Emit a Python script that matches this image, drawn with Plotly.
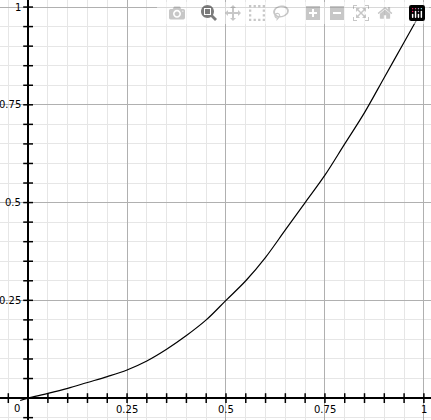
import plotly.graph_objects as go

# curve
xs = [-0.02, 0, 0.05, 0.1, 0.15, 0.2, 0.25, 0.3, 0.35, 0.4, 0.45, 0.5,
      0.55, 0.6, 0.65, 0.7, 0.75, 0.8, 0.85, 0.9, 0.95, 1]
ys = [-0.006, 0, 0.012, 0.025, 0.04, 0.055, 0.072, 0.095, 0.125, 0.16, 0.2, 0.25,
      0.3, 0.36, 0.43, 0.5, 0.57, 0.65, 0.73, 0.82, 0.91, 1]

tick_vals = [0.25, 0.5, 0.75, 1]
tick_text = ["0.25", "0.5", "0.75", "1"]
minor = [round(i * 0.05, 2) for i in range(-1, 21)]

fig = go.Figure()
fig.add_trace(go.Scatter(x=xs, y=ys, mode="lines", line=dict(color="black", width=1.2, shape="spline")))
# small tick marks on both axes
fig.add_trace(go.Scatter(x=minor, y=[0] * len(minor), mode="markers",
                         marker=dict(symbol="line-ns", size=7, line=dict(color="black", width=1.5))))
fig.add_trace(go.Scatter(x=[0] * len(minor), y=minor, mode="markers",
                         marker=dict(symbol="line-ew", size=7, line=dict(color="black", width=1.5))))

ann = [dict(x=0, y=0, text="0", xanchor="right", yanchor="top", xshift=-6, yshift=-3)]
for v, t in zip(tick_vals, tick_text):
    ann.append(dict(x=v, y=0, text=t, xanchor="center", yanchor="top", yshift=-4))
    ann.append(dict(x=0, y=v, text=t, xanchor="right", yanchor="middle", xshift=-5))
for a in ann:
    a.update(showarrow=False, font=dict(size=10, color="black", family="DejaVu Sans"))

fig.update_layout(
    width=431, height=420, margin=dict(l=0, r=0, t=0, b=0),
    plot_bgcolor="white", paper_bgcolor="white", showlegend=False,
    annotations=ann,
    xaxis=dict(range=[-0.071, 1.018], tickvals=[0.25 * i for i in range(5)], showticklabels=False,
               gridcolor="#b0b0b0", gridwidth=1, zeroline=True, zerolinecolor="black", zerolinewidth=1.5,
               minor=dict(dtick=0.05, tick0=0, showgrid=True, gridcolor="#e6e6e6")),
    yaxis=dict(range=[-0.056, 1.018], tickvals=[0.25 * i for i in range(5)], showticklabels=False,
               gridcolor="#b0b0b0", gridwidth=1, zeroline=True, zerolinecolor="black", zerolinewidth=1.5,
               minor=dict(dtick=0.05, tick0=0, showgrid=True, gridcolor="#e6e6e6")),
)
fig.write_html("out.html", post_script="document.body.style.margin='0';")
